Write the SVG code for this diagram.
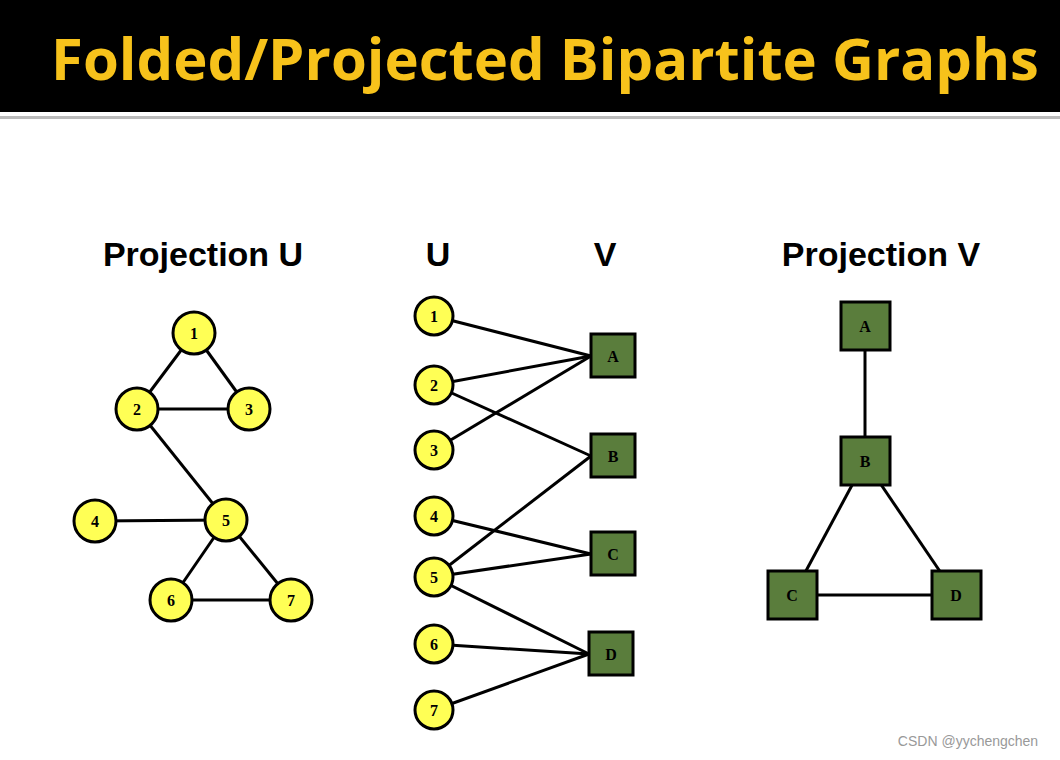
<svg xmlns="http://www.w3.org/2000/svg" width="1060" height="760" viewBox="0 0 1060 760">
<style>
.c{fill:#ffff55;stroke:#000;stroke-width:3}
.s{fill:#5a7d3c;stroke:#000;stroke-width:3}
.l{font-family:"Liberation Serif",serif;font-weight:bold;font-size:16px;text-anchor:middle;dominant-baseline:central}
.h{font-family:"Liberation Sans",Arial,sans-serif;font-weight:bold;font-size:34px;text-anchor:middle}
#edges line{stroke:#000;stroke-width:3}
</style>
<rect width="1060" height="760" fill="#fff"/>
<rect width="1060" height="112" fill="#000"/>
<rect y="116" width="1060" height="3" fill="#bbb"/>
<text x="545" y="80" font-family="'Open Sans','Liberation Sans',sans-serif" font-weight="bold" font-size="58" fill="#f7c21b" text-anchor="middle">Folded/Projected Bipartite Graphs</text>
<text class="h" x="203" y="266">Projection U</text>
<text class="h" x="438" y="266">U</text>
<text class="h" x="605" y="266">V</text>
<text class="h" x="881" y="266">Projection V</text>
<g id="edges">
<line x1="194" y1="333" x2="137" y2="409"/><line x1="194" y1="333" x2="249" y2="409"/><line x1="137" y1="409" x2="249" y2="409"/>
<line x1="137" y1="409" x2="226" y2="520"/><line x1="95" y1="521" x2="226" y2="520"/><line x1="226" y1="520" x2="171" y2="600"/>
<line x1="226" y1="520" x2="291" y2="600"/><line x1="171" y1="600" x2="291" y2="600"/>
<line x1="434" y1="316" x2="591" y2="356"/><line x1="434" y1="385" x2="591" y2="356"/><line x1="434" y1="385" x2="591" y2="456"/>
<line x1="434" y1="450" x2="591" y2="356"/><line x1="434" y1="516" x2="591" y2="554"/><line x1="434" y1="577" x2="591" y2="456"/>
<line x1="434" y1="577" x2="591" y2="554"/><line x1="434" y1="577" x2="589" y2="654"/><line x1="434" y1="644" x2="589" y2="654"/>
<line x1="434" y1="710" x2="589" y2="654"/>
<line x1="865" y1="326" x2="865" y2="461"/><line x1="865" y1="461" x2="793" y2="595"/><line x1="865" y1="461" x2="956" y2="595"/><line x1="793" y1="595" x2="956" y2="595"/>
</g>
<g id="pu1"><circle class="c" cx="194" cy="333" r="21"/><text class="l" x="194" y="333">1</text></g>
<g id="pu2"><circle class="c" cx="137" cy="409" r="21"/><text class="l" x="137" y="409">2</text></g>
<g id="pu3"><circle class="c" cx="249" cy="409" r="21"/><text class="l" x="249" y="409">3</text></g>
<g id="pu4"><circle class="c" cx="95" cy="521" r="21"/><text class="l" x="95" y="521">4</text></g>
<g id="pu5"><circle class="c" cx="226" cy="520" r="21"/><text class="l" x="226" y="520">5</text></g>
<g id="pu6"><circle class="c" cx="171" cy="600" r="21"/><text class="l" x="171" y="600">6</text></g>
<g id="pu7"><circle class="c" cx="291" cy="600" r="21"/><text class="l" x="291" y="600">7</text></g>
<g id="u1"><circle class="c" cx="434" cy="316" r="19"/><text class="l" x="434" y="316">1</text></g>
<g id="u2"><circle class="c" cx="434" cy="385" r="19"/><text class="l" x="434" y="385">2</text></g>
<g id="u3"><circle class="c" cx="434" cy="450" r="19"/><text class="l" x="434" y="450">3</text></g>
<g id="u4"><circle class="c" cx="434" cy="516" r="19"/><text class="l" x="434" y="516">4</text></g>
<g id="u5"><circle class="c" cx="434" cy="577" r="19"/><text class="l" x="434" y="577">5</text></g>
<g id="u6"><circle class="c" cx="434" cy="644" r="19"/><text class="l" x="434" y="644">6</text></g>
<g id="u7"><circle class="c" cx="434" cy="710" r="19"/><text class="l" x="434" y="710">7</text></g>
<g id="vA"><rect class="s" x="591" y="334" width="44" height="43"/><text class="l" x="613" y="356">A</text></g>
<g id="vB"><rect class="s" x="591" y="434" width="44" height="43"/><text class="l" x="613" y="456">B</text></g>
<g id="vC"><rect class="s" x="591" y="532" width="44" height="43"/><text class="l" x="613" y="554">C</text></g>
<g id="vD"><rect class="s" x="589" y="632" width="44" height="43"/><text class="l" x="611" y="654">D</text></g>
<g id="pvA"><rect class="s" x="841" y="302" width="49" height="48"/><text class="l" x="865" y="326">A</text></g>
<g id="pvB"><rect class="s" x="841" y="437" width="49" height="48"/><text class="l" x="865" y="461">B</text></g>
<g id="pvC"><rect class="s" x="768" y="571" width="49" height="48"/><text class="l" x="792" y="595">C</text></g>
<g id="pvD"><rect class="s" x="932" y="571" width="49" height="48"/><text class="l" x="956" y="595">D</text></g>
<text x="968" y="746" font-family="'Liberation Sans',sans-serif" font-size="14" fill="#999" text-anchor="middle">CSDN @yychengchen</text>
</svg>
